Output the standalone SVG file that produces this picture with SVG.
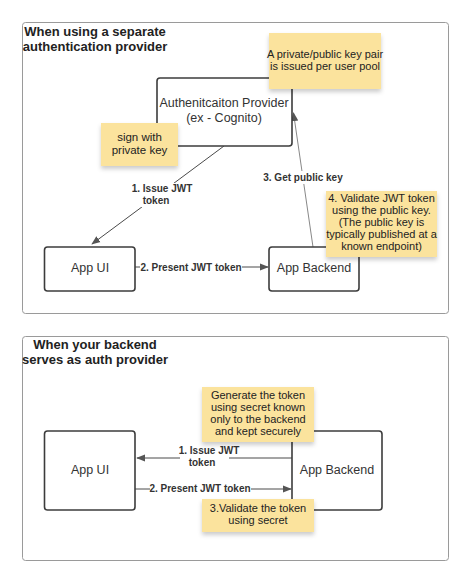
<svg xmlns="http://www.w3.org/2000/svg" width="474" height="583" viewBox="0 0 474 583">
<style>
.frame{fill:#fff;stroke:#9a9a9a;stroke-width:1}
.box{fill:#fff;stroke:#3c3c3c;stroke-width:1.6}
.note{fill:#fbe39d}
.title{font-family:"Liberation Sans",Arial,sans-serif;font-weight:bold;font-size:13px;fill:#222;text-anchor:middle}
.lbl{font-family:"Liberation Sans",Arial,sans-serif;font-size:12.5px;fill:#333;text-anchor:middle}
.nt{font-family:"Liberation Sans",Arial,sans-serif;font-size:11px;fill:#222;text-anchor:middle}
.el{font-family:"Liberation Sans",Arial,sans-serif;font-weight:bold;font-size:10px;fill:#333;text-anchor:middle}
.ln{stroke:#4a4a4a;stroke-width:1;fill:none}
.thin{stroke:#888;stroke-width:1;fill:none}
</style>
<defs>
<marker id="ah" viewBox="0 0 10 10" refX="9" refY="5" markerWidth="9" markerHeight="9" markerUnits="userSpaceOnUse" orient="auto">
<path d="M0,1 L10,5 L0,9 Z" fill="#555"/>
</marker>
<filter id="sh" x="-10%" y="-10%" width="120%" height="140%">
<feDropShadow dx="0" dy="3" stdDeviation="2" flood-color="#000" flood-opacity="0.2"/>
</filter>
</defs>
<rect width="474" height="583" fill="#fff"/>

<g id="frame1">
<rect class="frame" x="22.5" y="22.5" width="426" height="291" rx="3"/>
<text class="title" x="95" y="36">When using a separate</text>
<text class="title" x="95" y="51">authentication provider</text>
</g>
<g id="frame2">
<rect class="frame" x="22.5" y="336.5" width="426" height="224" rx="3"/>
<text class="title" x="95" y="349">When your backend</text>
<text class="title" x="95" y="364">serves as auth provider</text>
</g>

<g id="connectors">
<line class="ln" x1="224" y1="146" x2="92" y2="244" marker-end="url(#ah)"/>
<rect x="130" y="183" width="60" height="24" fill="#fff"/>
<text class="el" x="162" y="192">1. Issue JWT</text>
<text class="el" x="156" y="204">token</text>
<line class="ln" x1="135" y1="267" x2="268" y2="267" marker-end="url(#ah)"/>
<rect x="140" y="260" width="102" height="13" fill="#fff"/>
<text class="el" x="191" y="271">2. Present JWT token</text>
<line class="thin" x1="313" y1="247" x2="293.5" y2="113" marker-end="url(#ah)"/>
<rect x="262" y="171" width="82" height="13" fill="#fff"/>
<text class="el" x="303" y="181">3. Get public key</text>

<line class="ln" x1="292" y1="458" x2="137" y2="458" marker-end="url(#ah)"/>
<rect x="180" y="445" width="49" height="24" fill="#fff"/>
<text class="el" x="209" y="454">1. Issue JWT</text>
<text class="el" x="202" y="466">token</text>
<line class="ln" x1="135" y1="489" x2="291" y2="489" marker-end="url(#ah)"/>
<rect x="150" y="482" width="101" height="13" fill="#fff"/>
<text class="el" x="200" y="492">2. Present JWT token</text>
</g>

<g id="auth-provider">
<rect class="box" x="157" y="78" width="135" height="68" rx="3"/>
<text class="lbl" x="224" y="107">Authenitcaiton Provider</text>
<text class="lbl" x="224" y="122">(ex - Cognito)</text>
</g>
<g id="app-ui-1">
<rect class="box" x="44.5" y="247" width="90.5" height="44" rx="3"/>
<text class="lbl" x="90" y="272">App UI</text>
</g>
<g id="app-backend-1">
<rect class="box" x="269" y="247" width="90" height="44" rx="3"/>
<text class="lbl" x="314" y="272">App Backend</text>
</g>
<g id="note-keypair">
<rect class="note" filter="url(#sh)" x="269" y="33" width="112" height="56"/>
<text class="nt" x="325" y="58">A private/public key pair</text>
<text class="nt" x="325" y="70">is issued per user pool</text>
</g>
<g id="note-sign">
<rect class="note" filter="url(#sh)" x="101" y="123" width="77" height="43"/>
<text class="nt" x="139.5" y="141" style="font-size:11.5px">sign with</text>
<text class="nt" x="139.5" y="154" style="font-size:11.5px">private key</text>
</g>
<g id="note-validate">
<rect class="note" filter="url(#sh)" x="326" y="191" width="111" height="66"/>
<text class="nt" x="381.5" y="202">4. Validate JWT token</text>
<text class="nt" x="381.5" y="214">using the public key.</text>
<text class="nt" x="381.5" y="226">(The public key is</text>
<text class="nt" x="381.5" y="238">typically published at a</text>
<text class="nt" x="381.5" y="250">known endpoint)</text>
</g>

<g id="app-ui-2">
<rect class="box" x="44.5" y="431" width="90.5" height="79" rx="3"/>
<text class="lbl" x="90" y="474">App UI</text>
</g>
<g id="app-backend-2">
<rect class="box" x="292" y="431" width="90" height="79" rx="3"/>
<text class="lbl" x="337" y="474">App Backend</text>
</g>
<g id="note-generate">
<rect class="note" filter="url(#sh)" x="202" y="387" width="112" height="55"/>
<text class="nt" x="258" y="399">Generate the token</text>
<text class="nt" x="258" y="411">using secret known</text>
<text class="nt" x="258" y="423">only to the backend</text>
<text class="nt" x="258" y="435">and kept securely</text>
</g>
<g id="note-secret">
<rect class="note" filter="url(#sh)" x="202" y="499" width="112" height="33"/>
<text class="nt" x="258" y="512">3.Validate the token</text>
<text class="nt" x="258" y="524">using secret</text>
</g>
</svg>
